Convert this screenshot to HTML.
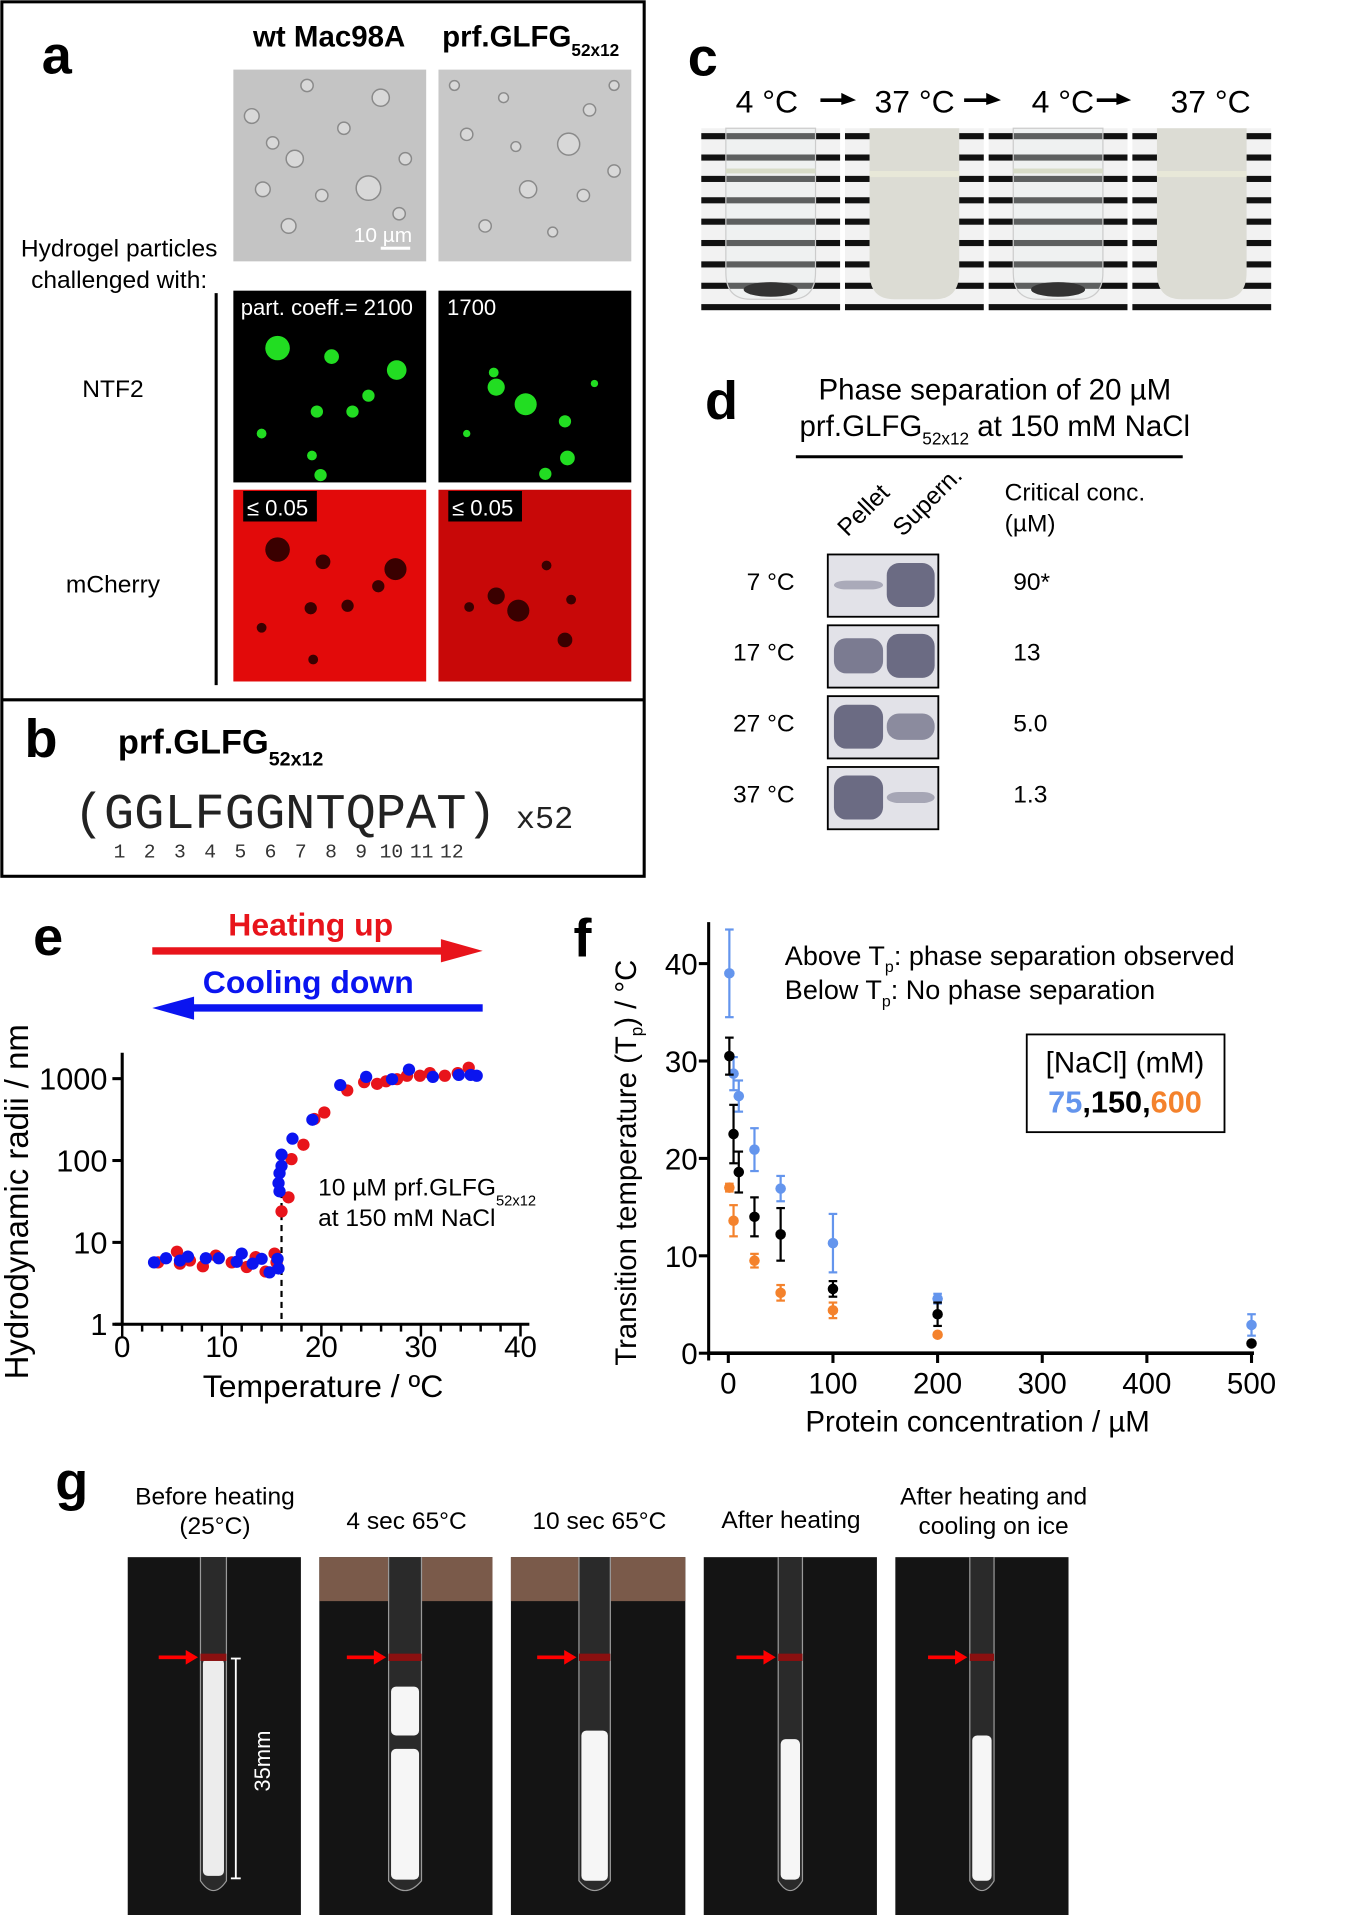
<!DOCTYPE html>
<html><head><meta charset="utf-8">
<style>
html,body{margin:0;padding:0;background:#fff;}
svg{display:block;font-family:"Liberation Sans",Arial,sans-serif;}
</style></head>
<body>
<svg id="fig" width="1351" height="1915" viewBox="0 0 1100 1568" preserveAspectRatio="none" xmlns="http://www.w3.org/2000/svg">
<g>
<rect x="1.5" y="1.5" width="523" height="716" fill="none" stroke="#000" stroke-width="2.5"/>
<line x1="1.5" y1="573" x2="524.5" y2="573" stroke="#000" stroke-width="2.5"/>
<text x="34" y="60" font-size="44" font-weight="bold">a</text>
<text x="268" y="38" font-size="24" font-weight="bold" text-anchor="middle">wt Mac98A</text>
<text x="360" y="38" font-size="24" font-weight="bold">prf.GLFG<tspan font-size="14" dy="8">52x12</tspan></text>
<text x="97" y="210" font-size="20" text-anchor="middle">Hydrogel particles</text>
<text x="97" y="236" font-size="20" text-anchor="middle">challenged with:</text>
<line x1="176" y1="240" x2="176" y2="561" stroke="#000" stroke-width="2.5"/>
<text x="92" y="325" font-size="20" text-anchor="middle">NTF2</text>
<text x="92" y="485" font-size="20" text-anchor="middle">mCherry</text>
<g id="micro"></g>
</g>
<g>
<text x="20" y="620" font-size="44" font-weight="bold">b</text>
<text x="96" y="617" font-size="28" font-weight="bold">prf.GLFG<tspan font-size="16" dy="10">52x12</tspan></text>
<text x="60" y="678" font-size="41" font-family="Liberation Mono,monospace" fill="#222">(GGLFGGNTQPAT)</text>
<text x="420" y="678" font-size="26" font-family="Liberation Mono,monospace" fill="#222">x52</text>
<g id="seqnums" font-family="Liberation Mono,monospace" font-size="16" fill="#333"></g>
</g>
<g>
<text x="560" y="62" font-size="44" font-weight="bold">c</text>
<g font-size="26">
<text x="599" y="92">4 °C</text>
<text x="712" y="92">37 °C</text>
<text x="840" y="92">4 °C</text>
<text x="953" y="92">37 °C</text>
</g>
<g id="carrows"></g>
<g id="vials"></g>
</g>
<g>
<text x="574" y="343" font-size="44" font-weight="bold">d</text>
<text x="810" y="327" font-size="24" text-anchor="middle">Phase separation of 20 µM</text>
<text x="810" y="357" font-size="24" text-anchor="middle">prf.GLFG<tspan font-size="14" dy="7">52x12</tspan><tspan dy="-7"> at 150 mM NaCl</tspan></text>
<line x1="648" y1="374" x2="963" y2="374" stroke="#000" stroke-width="2.5"/>
<text x="0" y="0" font-size="20" transform="translate(690,440) rotate(-45)">Pellet</text>
<text x="0" y="0" font-size="20" transform="translate(735,440) rotate(-45)">Supern.</text>
<text x="818" y="410" font-size="20">Critical conc.</text>
<text x="818" y="435" font-size="20">(µM)</text>
<g id="gels"></g>
</g>
<g id="panelE">
<text x="27" y="782" font-size="44" font-weight="bold">e</text>
<text x="253" y="766" font-size="26" font-weight="bold" fill="#e8141b" text-anchor="middle">Heating up</text>
<line x1="124" y1="778.6" x2="362" y2="778.6" stroke="#e8141b" stroke-width="6"/>
<polygon points="359,769 393,778.6 359,788" fill="#e8141b"/>
<text x="251" y="813" font-size="26" font-weight="bold" fill="#0a14f0" text-anchor="middle">Cooling down</text>
<line x1="155" y1="825.3" x2="393" y2="825.3" stroke="#0a14f0" stroke-width="6"/>
<polygon points="158,816 124,825.3 158,835" fill="#0a14f0"/>
<text x="0" y="0" font-size="27" text-anchor="middle" transform="translate(23,984) rotate(-90)">Hydrodynamic  radii / nm</text>
<text x="263" y="1144" font-size="26" text-anchor="middle">Temperature / ºC</text>
<text x="259" y="979" font-size="20">10 µM prf.GLFG<tspan font-size="12" dy="8">52x12</tspan></text>
<text x="259" y="1004" font-size="20">at 150 mM NaCl</text>
</g>
<g id="panelF">
<text x="467" y="783" font-size="44" font-weight="bold">f</text>
<text x="639" y="790" font-size="22">Above T<tspan font-size="13" dy="6">p</tspan><tspan dy="-6">: phase separation observed</tspan></text>
<text x="639" y="818" font-size="22">Below T<tspan font-size="13" dy="6">p</tspan><tspan dy="-6">: No phase separation</tspan></text>
<g>
<rect x="836" y="847" width="161" height="80" fill="#fff" stroke="#000" stroke-width="1.5"/>
<text x="916" y="878" font-size="24" text-anchor="middle">[NaCl] (mM)</text>
<text x="916" y="911" font-size="25" font-weight="bold" text-anchor="middle"><tspan fill="#6495ed">75</tspan><tspan fill="#000">,150,</tspan><tspan fill="#f4822c">600</tspan></text>
</g>
<text x="0" y="0" font-size="24" text-anchor="middle" transform="translate(518,952) rotate(-90)">Transition temperature (T<tspan font-size="14" dy="5">p</tspan><tspan dy="-5">) / °C</tspan></text>
<text x="796" y="1172" font-size="24" text-anchor="middle">Protein concentration / µM</text>
</g>
<g>
<text x="45" y="1228" font-size="44" font-weight="bold">g</text>
<g font-size="20" text-anchor="middle">
<text x="175" y="1232">Before heating</text>
<text x="175" y="1256">(25°C)</text>
<text x="331" y="1252">4 sec 65°C</text>
<text x="488" y="1252">10 sec 65°C</text>
<text x="644" y="1251">After heating</text>
<text x="809" y="1232">After heating and</text>
<text x="809" y="1256">cooling on ice</text>
</g>
<g id="tubes"></g>
</g>
</svg>
<script>
const eHeatT = [3.6,5.5,5.8,6.8,8.1,9.4,11.0,12.5,13.4,14.4,15.3,15.5,16.0,16.7,17.0,18.2,19.3,20.3,22.6,24.3,25.6,26.5,27.6,28.6,29.9,30.9,32.4,33.7,34.8];
const eHeatR = [5.7,7.7,5.5,6.0,5.1,6.9,5.7,5.0,6.6,4.4,7.3,5.7,23.9,35.5,104,156,322,386,718,906,864,928,985,1085,1085,1170,1085,1170,1360];
const eCoolT = [3.2,4.4,5.8,6.6,8.4,9.7,11.5,12.0,13.1,14.0,14.8,15.6,15.7,15.8,15.7,15.8,16.0,16.0,17.1,19.1,21.9,24.5,27.1,28.8,31.2,33.8,35.0,35.6];
const eCoolR = [5.7,6.4,6.0,6.7,6.4,6.4,5.8,7.3,5.5,6.3,4.3,6.3,4.8,42,53,70,86,118,185,315,835,1050,985,1290,1050,1110,1110,1085];
const eXTicks = [0,10,20,30,40];
const eYTicks = [1,10,100,1000];
const eTransition = 16;
const fConc75 = [1,5,10,25,50,100,200,500];
const fTp75 = [39.0,28.7,26.4,20.9,16.9,11.3,5.6,2.9];
const fErr75 = [4.5,1.7,1.6,2.2,1.3,3.0,0.5,1.1];
const fConc150 = [1,5,10,25,50,100,200,500];
const fTp150 = [30.5,22.5,18.6,14.0,12.2,6.6,4.0,1.0];
const fErr150 = [1.9,3.0,2.1,2.0,2.7,0.8,1.2,0];
const fConc600 = [1,5,25,50,100,200];
const fTp600 = [17.0,13.6,9.5,6.2,4.4,1.9];
const fErr600 = [0.4,1.6,0.7,0.8,0.8,0.2];
const fXTicks = [0,100,200,300,400,500];
const fYTicks = [0,10,20,30,40];

const NS = "http://www.w3.org/2000/svg";
function mk(tag, attrs, parent){ const e=document.createElementNS(NS,tag); for(const k in attrs) e.setAttribute(k,attrs[k]); parent.appendChild(e); return e; }

const E = {x0:99.5, x1:423.8, y1:1084.3, y1000:883.2};
function ex(t){ return E.x0 + (t/40)*(E.x1-E.x0); }
function ey(r){ return E.y1 - Math.log10(r)/3*(E.y1-E.y1000); }
(function(){
  const g = document.getElementById('panelE');
  const ax = mk('g',{},g);
  
  
  mk('line',{x1:E.x0,y1:862,x2:E.x0,y2:E.y1+1,stroke:'#000','stroke-width':2.5},ax);
  mk('line',{x1:E.x0-6,y1:E.y1,x2:431,y2:E.y1,stroke:'#000','stroke-width':2.5},ax);
  for(let t=0;t<=40;t+=2){ const major=t%10===0; mk('line',{x1:ex(t),y1:E.y1,x2:ex(t),y2:E.y1+(major?10:6),stroke:'#000','stroke-width':2},ax); }
  eXTicks.forEach(t=>{ const tx=mk('text',{x:ex(t),y:1111,'font-size':24,'text-anchor':'middle'},ax); tx.textContent=t;
    
     });
  eYTicks.forEach(r=>{ mk('line',{x1:E.x0-8,y1:ey(r),x2:E.x0,y2:ey(r),stroke:'#000','stroke-width':2.5},ax);
    const tx=mk('text',{x:E.x0-12,y:ey(r)+9,'font-size':25,'text-anchor':'end'},ax); tx.textContent=r;
    
     });
  mk('line',{x1:ex(eTransition),y1:976,x2:ex(eTransition),y2:E.y1,stroke:'#000','stroke-width':1.8,'stroke-dasharray':'5,4'},ax);
  const rg = mk('g',{},g);
  
  
  eHeatT.forEach((t,i)=>{ const c=mk('circle',{cx:ex(t),cy:ey(eHeatR[i]),r:5,fill:'#e8141b'},rg);
    
     });
  const bg = mk('g',{},g);
  
  
  eCoolT.forEach((t,i)=>{ const c=mk('circle',{cx:ex(t),cy:ey(eCoolR[i]),r:5,fill:'#0a14f0'},bg);
    
     });
})();

const F = {xa:577, x0:593, x500:1019, y0:1108, y40:789};
function fx(c){ return F.x0 + c/500*(F.x500-F.x0); }
function fy(t){ return F.y0 - t/40*(F.y0-F.y40); }
(function(){
  const g = document.getElementById('panelF');
  const ax = mk('g',{},g);
  
  
  mk('line',{x1:F.xa,y1:755,x2:F.xa,y2:F.y0+6,stroke:'#000','stroke-width':2.5},ax);
  mk('line',{x1:F.xa,y1:F.y0,x2:1021,y2:F.y0,stroke:'#000','stroke-width':3},ax);
  fYTicks.forEach(t=>{ mk('line',{x1:F.xa-8,y1:fy(t),x2:F.xa,y2:fy(t),stroke:'#000','stroke-width':2.5},ax);
    const tx=mk('text',{x:F.xa-9,y:fy(t)+9,'font-size':24,'text-anchor':'end'},ax); tx.textContent=t;
    
     });
  fXTicks.forEach(c=>{ mk('line',{x1:fx(c),y1:F.y0,x2:fx(c),y2:F.y0+8,stroke:'#000','stroke-width':2.5},ax);
    const tx=mk('text',{x:fx(c),y:1141,'font-size':24,'text-anchor':'middle'},ax); tx.textContent=c;
    
     });
  function series(conc,tp,err,color,name){
    const sg = mk('g',{},g);
    
    
    conc.forEach((c,i)=>{
      const x=fx(c), y=fy(tp[i]);
      if(err[i]>0){
        const yt=fy(tp[i]+err[i]), yb=fy(tp[i]-err[i]);
        mk('line',{x1:x,y1:yt,x2:x,y2:yb,stroke:color,'stroke-width':1.8},sg);
        mk('line',{x1:x-3.5,y1:yt,x2:x+3.5,y2:yt,stroke:color,'stroke-width':1.8},sg);
        mk('line',{x1:x-3.5,y1:yb,x2:x+3.5,y2:yb,stroke:color,'stroke-width':1.8},sg);
      }
      const p=mk('circle',{cx:x,cy:y,r:4.3,fill:color},sg);
      
      
    });
  }
  series(fConc600,fTp600,fErr600,'#f4822c','series-600mm');
  series(fConc75,fTp75,fErr75,'#6495ed','series-75mm');
  series(fConc150,fTp150,fErr150,'#000','series-150mm');
})();

(function(){
  const g=document.getElementById('micro');
  const tiles=[[190,57,'#c4c4c4'],[357,57,'#c8c8c8'],[190,238,'#000'],[357,238,'#000'],[190,401,'#e20a0a'],[357,401,'#c80808']];
  tiles.forEach(t=>mk('rect',{x:t[0],y:t[1],width:157,height:157,fill:t[2]},g));
  const grey1=[[222,117,5],[240,130,7],[300,154,10],[310,80,7],[214,155,6],[262,160,5],[280,105,5],[235,185,6],[330,130,5],[250,70,5],[205,95,6],[325,175,5]];
  const grey2=[[463,118,9],[430,155,7],[380,110,5],[410,80,4],[480,90,5],[395,185,5],[500,140,5],[370,70,4],[450,190,4],[420,120,4],[475,160,5],[500,70,4]];
  [grey1,grey2].forEach(a=>a.forEach(c=>mk('circle',{cx:c[0],cy:c[1],r:c[2],fill:'#d8d8d8',stroke:'#8a8a8a','stroke-width':1.2},g)));
  const gr1=[[226,285,10],[323,303,8],[270,292,6],[300,324,5],[258,337,5],[287,337,5],[213,355,4],[254,373,4],[261,389,5]];
  const gr2=[[428,331,9],[404,317,7],[462,375,6],[460,345,5],[444,388,5],[402,305,4],[484,314,3],[380,355,3]];
  [gr1,gr2].forEach(a=>a.forEach(c=>mk('circle',{cx:c[0],cy:c[1],r:c[2],fill:'#22dd22'},g)));
  const rd1=[[226,450,10],[322,466,9],[263,460,6],[308,480,5],[253,498,5],[283,496,5],[213,514,4],[255,540,4]];
  const rd2=[[422,500,9],[404,488,7],[460,524,6],[465,491,4],[382,497,4],[445,463,4]];
  [rd1,rd2].forEach(a=>a.forEach(c=>mk('circle',{cx:c[0],cy:c[1],r:c[2],fill:'#3a0000'},g)));
  function lab(x,y,s,bgw){ if(bgw) mk('rect',{x:x-3,y:y-20,width:bgw,height:25,fill:'#000'},g);
    const t=mk('text',{x:x,y:y,'font-size':18,fill:'#fff'},g); t.textContent=s;
    
     }
  lab(196,258,'part. coeff.= 2100'); lab(364,258,'1700');
  lab(201,422,'≤ 0.05',60); lab(368,422,'≤ 0.05',60);
  const sb=mk('text',{x:288,y:198,'font-size':17,fill:'#fff'},g); sb.textContent='10 µm';
  
  
  mk('rect',{x:310,y:202,width:24,height:2.5,fill:'#fff'},g);
})();

(function(){
  const g=document.getElementById('seqnums');
  for(let i=1;i<=12;i++){ const t=mk('text',{x:85+12.3+(i-1)*24.6,y:702,'text-anchor':'middle'},g); t.textContent=i;
    
     }
})();

(function(){
  const a=document.getElementById('carrows');
  [[668,697],[785,815],[893,921]].forEach(p=>{
    mk('line',{x1:p[0],y1:82,x2:p[1]-10,y2:82,stroke:'#000','stroke-width':3},a);
    mk('polygon',{points:`${p[1]-12},76 ${p[1]},82 ${p[1]-12},86`,fill:'#000'},a);
  });
  const g=document.getElementById('vials');
  [[571,false],[688,true],[805,false],[922,true]].forEach((v,i)=>{
    const x=v[0], w=113, y=105, h=146;
    const tg=mk('g',{},g);
    
    
    mk('rect',{x:x,y:y,width:w,height:h,fill:'#f2f2f2'},tg);
    for(let k=0;k<9;k++) mk('rect',{x:x,y:y+4+k*17.5,width:w,height:5,fill:'#111'},tg);
    const tx=x+20, tw=w-40;
    const path=`M${tx},${y} L${tx},${y+h-28} Q${tx},${y+h-6} ${tx+20},${y+h-6} L${tx+tw-20},${y+h-6} Q${tx+tw},${y+h-6} ${tx+tw},${y+h-28} L${tx+tw},${y}Z`;
    if(v[1]){
      mk('path',{d:path,fill:'#dcdcd4'},tg);
      mk('rect',{x:tx,y:y+35,width:tw,height:5,fill:'#e8e8d8'},tg);
    } else {
      mk('path',{d:path,fill:'rgba(235,240,240,0.35)',stroke:'#ccc','stroke-width':1},tg);
      mk('rect',{x:tx,y:y+33,width:tw,height:4,fill:'#d8dcc8'},tg);
      mk('ellipse',{cx:x+w/2,cy:y+h-14,rx:22,ry:6,fill:'#333'},tg);
    }
  });
})();

(function(){
  const g=document.getElementById('gels');
  const pel=[0.2,0.8,1,1], sup=[1,1,0.6,0.25];
  const temps=['7 °C','17 °C','27 °C','37 °C'], vals=['90*','13','5.0','1.3'];
  for(let i=0;i<4;i++){
    const y=454+i*58;
    const gg=mk('g',{},g);
    
    
    mk('rect',{x:674,y:y,width:90,height:51,fill:'#e2e2e8',stroke:'#000','stroke-width':1.5},gg);
    mk('rect',{x:679,y:y+25-pel[i]*18,width:40,height:Math.max(4,pel[i]*36),rx:10,fill:'#5e5e78','fill-opacity':0.3+pel[i]*0.6},gg);
    mk('rect',{x:722,y:y+25-sup[i]*18,width:39,height:Math.max(4,sup[i]*36),rx:10,fill:'#5e5e78','fill-opacity':0.3+sup[i]*0.6},gg);
    const t=mk('text',{x:647,y:y+29,'font-size':20,'text-anchor':'end'},gg); t.textContent=temps[i];
    
    
    const v=mk('text',{x:825,y:y+29,'font-size':20},gg); v.textContent=vals[i];
    
    
  }
})();

(function(){
  const g=document.getElementById('tubes');
  const tiles=[[104,245,0.42,0.57,[[1358,1536]]],[260,401,0.40,0.59,[[1381,1421],[1432,1539]]],[416,558,0.39,0.57,[[1417,1540]]],[573,714,0.43,0.57,[[1424,1539]]],[729,870,0.43,0.57,[[1421,1540]]]];
  tiles.forEach((t,i)=>{
    const tg=mk('g',{},g);
    
    
    const w=t[1]-t[0];
    mk('rect',{x:t[0],y:1275,width:w,height:293,fill:'#141414'},tg);
    if(i===1||i===2) mk('rect',{x:t[0],y:1275,width:w,height:36,fill:'#7a5a4a'},tg);
    const a=t[0]+w*t[2], b=t[0]+w*t[3];
    mk('path',{d:`M${a},1275 L${a},1540 Q${(a+b)/2},1556 ${b},1540 L${b},1275`,fill:'#2a2a2a',stroke:'#9a9a9a','stroke-width':1},tg);
    t[4].forEach(s=>mk('rect',{x:a+2,y:s[0],width:b-a-4,height:s[1]-s[0],rx:4,fill:i===0?'#ececec':'#f6f6f6'},tg));
    mk('rect',{x:a,y:1354,width:b-a,height:6,fill:'#8a1010'},tg);
    mk('line',{x1:a-34,y1:1357,x2:a-10,y2:1357,stroke:'#f00','stroke-width':3},tg);
    mk('polygon',{points:`${a-12},1351 ${a-2},1357 ${a-12},1363`,fill:'#f00'},tg);
  });
  mk('line',{x1:192,y1:1358,x2:192,y2:1538,stroke:'#fff','stroke-width':1.5},g);
  mk('line',{x1:188,y1:1358,x2:196,y2:1358,stroke:'#fff','stroke-width':1.5},g);
  mk('line',{x1:188,y1:1538,x2:196,y2:1538,stroke:'#fff','stroke-width':1.5},g);
  const t=mk('text',{x:0,y:0,'font-size':18,fill:'#fff','text-anchor':'middle',transform:'translate(220,1442) rotate(-90)'},g);
  t.textContent='35mm';
  
  
})();
</script>
</body></html>
